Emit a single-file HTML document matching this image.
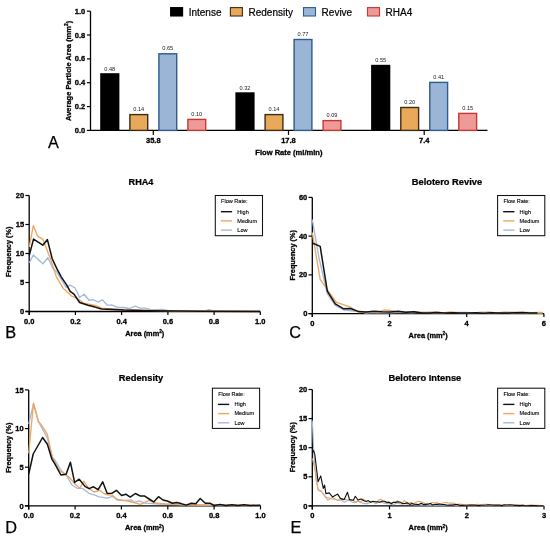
<!DOCTYPE html>
<html><head><meta charset="utf-8"><style>
html,body{margin:0;padding:0;background:#fff;}
svg{display:block;will-change:transform;}
text{font-family:"Liberation Sans", sans-serif;}
</style></head><body>
<svg width="550" height="536" viewBox="0 0 550 536">
<rect width="550" height="536" fill="#fff"/>
<line x1="90.5" y1="11.2" x2="90.5" y2="130.4" stroke="#000" stroke-width="1.3"/>
<line x1="89.9" y1="130.4" x2="487.5" y2="130.4" stroke="#000" stroke-width="1.3"/>
<line x1="86.9" y1="130.4" x2="90.5" y2="130.4" stroke="#000" stroke-width="1.2"/>
<text x="85.3" y="133.0" font-size="7.5" font-weight="bold" text-anchor="end" fill="#000"  stroke="#000" stroke-width="0.3">0.0</text>
<line x1="86.9" y1="106.6" x2="90.5" y2="106.6" stroke="#000" stroke-width="1.2"/>
<text x="85.3" y="109.16" font-size="7.5" font-weight="bold" text-anchor="end" fill="#000"  stroke="#000" stroke-width="0.3">0.2</text>
<line x1="86.9" y1="82.7" x2="90.5" y2="82.7" stroke="#000" stroke-width="1.2"/>
<text x="85.3" y="85.32" font-size="7.5" font-weight="bold" text-anchor="end" fill="#000"  stroke="#000" stroke-width="0.3">0.4</text>
<line x1="86.9" y1="58.9" x2="90.5" y2="58.9" stroke="#000" stroke-width="1.2"/>
<text x="85.3" y="61.48" font-size="7.5" font-weight="bold" text-anchor="end" fill="#000"  stroke="#000" stroke-width="0.3">0.6</text>
<line x1="86.9" y1="35.0" x2="90.5" y2="35.0" stroke="#000" stroke-width="1.2"/>
<text x="85.3" y="37.63999999999999" font-size="7.5" font-weight="bold" text-anchor="end" fill="#000"  stroke="#000" stroke-width="0.3">0.8</text>
<line x1="86.9" y1="11.2" x2="90.5" y2="11.2" stroke="#000" stroke-width="1.2"/>
<text x="85.3" y="13.800000000000002" font-size="7.5" font-weight="bold" text-anchor="end" fill="#000"  stroke="#000" stroke-width="0.3">1.0</text>
<text x="0" y="0" font-size="7.5" font-weight="bold" text-anchor="middle" fill="#000" transform="translate(70.8,70.9) rotate(-90)" stroke="#000" stroke-width="0.3">Average Particle Area (mm<tspan font-size="4.8" dy="-2.7">2</tspan><tspan dy="2.7">)</tspan></text>
<line x1="153.3" y1="130.4" x2="153.3" y2="134.9" stroke="#000" stroke-width="1.2"/>
<rect x="100.2" y="73.2" width="19.2" height="57.2" fill="#000"/>
<text x="109.80000000000001" y="70.78399999999999" font-size="5.6" font-weight="normal" text-anchor="middle" fill="#222" >0.48</text>
<rect x="129.9" y="114.6" width="17.8" height="15.8" fill="#E9A95B" stroke="#3F2C12" stroke-width="1.4"/>
<text x="138.8" y="111.012" font-size="5.6" font-weight="normal" text-anchor="middle" fill="#222" >0.14</text>
<rect x="158.9" y="53.8" width="17.8" height="76.6" fill="#9BB5D6" stroke="#2F5B8E" stroke-width="1.4"/>
<text x="167.8" y="50.22" font-size="5.6" font-weight="normal" text-anchor="middle" fill="#222" >0.65</text>
<rect x="187.9" y="119.4" width="17.8" height="11.0" fill="#EE9A98" stroke="#C93733" stroke-width="1.4"/>
<text x="196.8" y="115.78" font-size="5.6" font-weight="normal" text-anchor="middle" fill="#222" >0.10</text>
<line x1="288.5" y1="130.4" x2="288.5" y2="134.9" stroke="#000" stroke-width="1.2"/>
<rect x="235.4" y="92.3" width="19.2" height="38.1" fill="#000"/>
<text x="245.0" y="89.856" font-size="5.6" font-weight="normal" text-anchor="middle" fill="#222" >0.32</text>
<rect x="265.1" y="114.6" width="17.8" height="15.8" fill="#E9A95B" stroke="#3F2C12" stroke-width="1.4"/>
<text x="274.0" y="111.012" font-size="5.6" font-weight="normal" text-anchor="middle" fill="#222" >0.14</text>
<rect x="294.1" y="39.5" width="17.8" height="90.9" fill="#9BB5D6" stroke="#2F5B8E" stroke-width="1.4"/>
<text x="303.0" y="35.916" font-size="5.6" font-weight="normal" text-anchor="middle" fill="#222" >0.77</text>
<rect x="323.1" y="120.6" width="17.8" height="9.8" fill="#EE9A98" stroke="#C93733" stroke-width="1.4"/>
<text x="332.0" y="116.97200000000001" font-size="5.6" font-weight="normal" text-anchor="middle" fill="#222" >0.09</text>
<line x1="424.2" y1="130.4" x2="424.2" y2="134.9" stroke="#000" stroke-width="1.2"/>
<rect x="371.1" y="64.8" width="19.2" height="65.6" fill="#000"/>
<text x="380.7" y="62.440000000000005" font-size="5.6" font-weight="normal" text-anchor="middle" fill="#222" >0.55</text>
<rect x="400.8" y="107.5" width="17.8" height="22.9" fill="#E9A95B" stroke="#3F2C12" stroke-width="1.4"/>
<text x="409.7" y="103.86" font-size="5.6" font-weight="normal" text-anchor="middle" fill="#222" >0.20</text>
<rect x="429.8" y="82.4" width="17.8" height="48.0" fill="#9BB5D6" stroke="#2F5B8E" stroke-width="1.4"/>
<text x="438.7" y="78.828" font-size="5.6" font-weight="normal" text-anchor="middle" fill="#222" >0.41</text>
<rect x="458.8" y="113.4" width="17.8" height="17.0" fill="#EE9A98" stroke="#C93733" stroke-width="1.4"/>
<text x="467.7" y="109.82000000000001" font-size="5.6" font-weight="normal" text-anchor="middle" fill="#222" >0.15</text>
<text x="153.3" y="142.9" font-size="7.5" font-weight="bold" text-anchor="middle" fill="#000"  stroke="#000" stroke-width="0.3">35.8</text>
<text x="288.5" y="142.9" font-size="7.5" font-weight="bold" text-anchor="middle" fill="#000"  stroke="#000" stroke-width="0.3">17.8</text>
<text x="424.2" y="142.9" font-size="7.5" font-weight="bold" text-anchor="middle" fill="#000"  stroke="#000" stroke-width="0.3">7.4</text>
<text x="288.9" y="155.3" font-size="7.55" font-weight="bold" text-anchor="middle" fill="#000"  stroke="#000" stroke-width="0.3">Flow Rate (ml/min)</text>
<text x="48.1" y="148.0" font-size="16.3" font-weight="normal" text-anchor="start" fill="#000"  stroke="#000" stroke-width="0.25">A</text>
<rect x="170.6" y="7.6" width="12" height="8.4" fill="#000" stroke="#000" stroke-width="1.1"/>
<text x="188.7" y="15.6" font-size="10.0" font-weight="normal" text-anchor="start" fill="#000"  stroke="#000" stroke-width="0.2">Intense</text>
<rect x="230.4" y="7.6" width="12" height="8.4" fill="#E9A95B" stroke="#3F2C12" stroke-width="1.1"/>
<text x="248.5" y="15.6" font-size="10.0" font-weight="normal" text-anchor="start" fill="#000"  stroke="#000" stroke-width="0.2">Redensity</text>
<rect x="303.5" y="7.6" width="12" height="8.4" fill="#9BB5D6" stroke="#2F5B8E" stroke-width="1.1"/>
<text x="321.6" y="15.6" font-size="10.0" font-weight="normal" text-anchor="start" fill="#000"  stroke="#000" stroke-width="0.2">Revive</text>
<rect x="367.5" y="7.6" width="12" height="8.4" fill="#EE9A98" stroke="#C93733" stroke-width="1.1"/>
<text x="385.6" y="15.6" font-size="10.0" font-weight="normal" text-anchor="start" fill="#000"  stroke="#000" stroke-width="0.2">RHA4</text>
<!-- B -->
<line x1="29.2" y1="195.5" x2="29.2" y2="315.0" stroke="#000" stroke-width="1.3"/>
<line x1="25.4" y1="311.5" x2="260.3" y2="311.5" stroke="#000" stroke-width="1.3"/>
<line x1="25.4" y1="311.5" x2="29.2" y2="311.5" stroke="#000" stroke-width="1.2"/>
<text x="24.2" y="314.1" font-size="7.5" font-weight="bold" text-anchor="end" fill="#000"  stroke="#000" stroke-width="0.3">0</text>
<line x1="25.4" y1="282.5" x2="29.2" y2="282.5" stroke="#000" stroke-width="1.2"/>
<text x="24.2" y="285.1" font-size="7.5" font-weight="bold" text-anchor="end" fill="#000"  stroke="#000" stroke-width="0.3">5</text>
<line x1="25.4" y1="253.5" x2="29.2" y2="253.5" stroke="#000" stroke-width="1.2"/>
<text x="24.2" y="256.1" font-size="7.5" font-weight="bold" text-anchor="end" fill="#000"  stroke="#000" stroke-width="0.3">10</text>
<line x1="25.4" y1="224.5" x2="29.2" y2="224.5" stroke="#000" stroke-width="1.2"/>
<text x="24.2" y="227.1" font-size="7.5" font-weight="bold" text-anchor="end" fill="#000"  stroke="#000" stroke-width="0.3">15</text>
<line x1="25.4" y1="195.5" x2="29.2" y2="195.5" stroke="#000" stroke-width="1.2"/>
<text x="24.2" y="198.1" font-size="7.5" font-weight="bold" text-anchor="end" fill="#000"  stroke="#000" stroke-width="0.3">20</text>
<line x1="29.2" y1="311.5" x2="29.2" y2="315.0" stroke="#000" stroke-width="1.2"/>
<text x="29.2" y="323.7" font-size="7.5" font-weight="bold" text-anchor="middle" fill="#000"  stroke="#000" stroke-width="0.3">0.0</text>
<line x1="75.4" y1="311.5" x2="75.4" y2="315.0" stroke="#000" stroke-width="1.2"/>
<text x="75.42" y="323.7" font-size="7.5" font-weight="bold" text-anchor="middle" fill="#000"  stroke="#000" stroke-width="0.3">0.2</text>
<line x1="121.6" y1="311.5" x2="121.6" y2="315.0" stroke="#000" stroke-width="1.2"/>
<text x="121.64" y="323.7" font-size="7.5" font-weight="bold" text-anchor="middle" fill="#000"  stroke="#000" stroke-width="0.3">0.4</text>
<line x1="167.9" y1="311.5" x2="167.9" y2="315.0" stroke="#000" stroke-width="1.2"/>
<text x="167.85999999999999" y="323.7" font-size="7.5" font-weight="bold" text-anchor="middle" fill="#000"  stroke="#000" stroke-width="0.3">0.6</text>
<line x1="214.1" y1="311.5" x2="214.1" y2="315.0" stroke="#000" stroke-width="1.2"/>
<text x="214.07999999999998" y="323.7" font-size="7.5" font-weight="bold" text-anchor="middle" fill="#000"  stroke="#000" stroke-width="0.3">0.8</text>
<line x1="260.3" y1="311.5" x2="260.3" y2="315.0" stroke="#000" stroke-width="1.2"/>
<text x="260.3" y="323.7" font-size="7.5" font-weight="bold" text-anchor="middle" fill="#000"  stroke="#000" stroke-width="0.3">1.0</text>
<text x="0" y="0" font-size="7.5" font-weight="bold" text-anchor="middle" fill="#000" transform="translate(11.399999999999999,251.8) rotate(-90) scale(0.975,1)" stroke="#000" stroke-width="0.3">Frequency (%)</text>
<text x="0" y="0" transform="translate(144.75,336.00) scale(0.985,1)" font-size="7.5" font-weight="bold" text-anchor="middle" fill="#000"  stroke="#000" stroke-width="0.3">Area (mm<tspan font-size="4.8" dy="-2.7">2</tspan><tspan dy="2.7">)</tspan></text>
<text x="0" y="0" transform="translate(141.00,184.90) scale(0.97,1)" font-size="9.4" font-weight="bold" text-anchor="middle" fill="#000"  stroke="#000" stroke-width="0.25">RHA4</text>
<text x="5.2" y="338.0" font-size="16.3" font-weight="normal" text-anchor="start" fill="#000"  stroke="#000" stroke-width="0.25">B</text>
<rect x="215.3" y="195.5" width="47.2" height="40.2" fill="#fff" stroke="#111" stroke-width="1.05"/>
<text x="0" y="0" transform="translate(221.10,202.80) scale(0.94,1)" font-size="5.9" font-weight="normal" text-anchor="start" fill="#000"  stroke="#000" stroke-width="0.12">Flow Rate:</text>
<line x1="220.9" y1="211.7" x2="232.10000000000002" y2="211.7" stroke="#111" stroke-width="1.4"/>
<text x="0" y="0" transform="translate(237.30,213.50) scale(0.96,1)" font-size="5.8" font-weight="normal" text-anchor="start" fill="#000"  stroke="#000" stroke-width="0.12">High</text>
<line x1="220.9" y1="220.9" x2="232.10000000000002" y2="220.9" stroke="#ECA762" stroke-width="1.4"/>
<text x="0" y="0" transform="translate(237.30,222.70) scale(0.96,1)" font-size="5.8" font-weight="normal" text-anchor="start" fill="#000"  stroke="#000" stroke-width="0.12">Medium</text>
<line x1="220.9" y1="230.1" x2="232.10000000000002" y2="230.1" stroke="#A2BADB" stroke-width="1.4"/>
<text x="0" y="0" transform="translate(237.30,231.90) scale(0.96,1)" font-size="5.8" font-weight="normal" text-anchor="start" fill="#000"  stroke="#000" stroke-width="0.12">Low</text>
<!-- C -->
<line x1="312.3" y1="197.4" x2="312.3" y2="317.1" stroke="#000" stroke-width="1.3"/>
<line x1="308.5" y1="313.6" x2="544.0" y2="313.6" stroke="#000" stroke-width="1.3"/>
<line x1="308.5" y1="313.6" x2="312.3" y2="313.6" stroke="#000" stroke-width="1.2"/>
<text x="307.3" y="316.20000000000005" font-size="7.5" font-weight="bold" text-anchor="end" fill="#000"  stroke="#000" stroke-width="0.3">0</text>
<line x1="308.5" y1="274.9" x2="312.3" y2="274.9" stroke="#000" stroke-width="1.2"/>
<text x="307.3" y="277.46000000000004" font-size="7.5" font-weight="bold" text-anchor="end" fill="#000"  stroke="#000" stroke-width="0.3">20</text>
<line x1="308.5" y1="236.1" x2="312.3" y2="236.1" stroke="#000" stroke-width="1.2"/>
<text x="307.3" y="238.72" font-size="7.5" font-weight="bold" text-anchor="end" fill="#000"  stroke="#000" stroke-width="0.3">40</text>
<line x1="308.5" y1="197.4" x2="312.3" y2="197.4" stroke="#000" stroke-width="1.2"/>
<text x="307.3" y="199.98000000000002" font-size="7.5" font-weight="bold" text-anchor="end" fill="#000"  stroke="#000" stroke-width="0.3">60</text>
<line x1="312.3" y1="313.6" x2="312.3" y2="317.1" stroke="#000" stroke-width="1.2"/>
<text x="312.3" y="325.8" font-size="7.5" font-weight="bold" text-anchor="middle" fill="#000"  stroke="#000" stroke-width="0.3">0</text>
<line x1="389.5" y1="313.6" x2="389.5" y2="317.1" stroke="#000" stroke-width="1.2"/>
<text x="389.5" y="325.8" font-size="7.5" font-weight="bold" text-anchor="middle" fill="#000"  stroke="#000" stroke-width="0.3">2</text>
<line x1="466.7" y1="313.6" x2="466.7" y2="317.1" stroke="#000" stroke-width="1.2"/>
<text x="466.70000000000005" y="325.8" font-size="7.5" font-weight="bold" text-anchor="middle" fill="#000"  stroke="#000" stroke-width="0.3">4</text>
<line x1="543.9" y1="313.6" x2="543.9" y2="317.1" stroke="#000" stroke-width="1.2"/>
<text x="543.9000000000001" y="325.8" font-size="7.5" font-weight="bold" text-anchor="middle" fill="#000"  stroke="#000" stroke-width="0.3">6</text>
<text x="0" y="0" font-size="7.5" font-weight="bold" text-anchor="middle" fill="#000" transform="translate(294.5,255.3) rotate(-90) scale(0.975,1)" stroke="#000" stroke-width="0.3">Frequency (%)</text>
<text x="0" y="0" transform="translate(428.15,338.10) scale(0.985,1)" font-size="7.5" font-weight="bold" text-anchor="middle" fill="#000"  stroke="#000" stroke-width="0.3">Area (mm<tspan font-size="4.8" dy="-2.7">2</tspan><tspan dy="2.7">)</tspan></text>
<text x="0" y="0" transform="translate(446.95,185.20) scale(0.99,1)" font-size="9.4" font-weight="bold" text-anchor="middle" fill="#000"  stroke="#000" stroke-width="0.25">Belotero Revive</text>
<text x="289.3" y="338.2" font-size="16.3" font-weight="normal" text-anchor="start" fill="#000"  stroke="#000" stroke-width="0.25">C</text>
<rect x="497.6" y="195.5" width="47.2" height="40.2" fill="#fff" stroke="#111" stroke-width="1.05"/>
<text x="0" y="0" transform="translate(503.40,202.80) scale(0.94,1)" font-size="5.9" font-weight="normal" text-anchor="start" fill="#000"  stroke="#000" stroke-width="0.12">Flow Rate:</text>
<line x1="503.20000000000005" y1="211.7" x2="514.4" y2="211.7" stroke="#111" stroke-width="1.4"/>
<text x="0" y="0" transform="translate(519.60,213.50) scale(0.96,1)" font-size="5.8" font-weight="normal" text-anchor="start" fill="#000"  stroke="#000" stroke-width="0.12">High</text>
<line x1="503.20000000000005" y1="220.9" x2="514.4" y2="220.9" stroke="#ECA762" stroke-width="1.4"/>
<text x="0" y="0" transform="translate(519.60,222.70) scale(0.96,1)" font-size="5.8" font-weight="normal" text-anchor="start" fill="#000"  stroke="#000" stroke-width="0.12">Medium</text>
<line x1="503.20000000000005" y1="230.1" x2="514.4" y2="230.1" stroke="#A2BADB" stroke-width="1.4"/>
<text x="0" y="0" transform="translate(519.60,231.90) scale(0.96,1)" font-size="5.8" font-weight="normal" text-anchor="start" fill="#000"  stroke="#000" stroke-width="0.12">Low</text>
<!-- D -->
<line x1="28.7" y1="389.9" x2="28.7" y2="509.4" stroke="#000" stroke-width="1.3"/>
<line x1="24.9" y1="505.9" x2="260.5" y2="505.9" stroke="#000" stroke-width="1.3"/>
<line x1="24.9" y1="505.9" x2="28.7" y2="505.9" stroke="#000" stroke-width="1.2"/>
<text x="23.7" y="508.5" font-size="7.5" font-weight="bold" text-anchor="end" fill="#000"  stroke="#000" stroke-width="0.3">0</text>
<line x1="24.9" y1="467.2" x2="28.7" y2="467.2" stroke="#000" stroke-width="1.2"/>
<text x="23.7" y="469.835" font-size="7.5" font-weight="bold" text-anchor="end" fill="#000"  stroke="#000" stroke-width="0.3">5</text>
<line x1="24.9" y1="428.6" x2="28.7" y2="428.6" stroke="#000" stroke-width="1.2"/>
<text x="23.7" y="431.17" font-size="7.5" font-weight="bold" text-anchor="end" fill="#000"  stroke="#000" stroke-width="0.3">10</text>
<line x1="24.9" y1="389.9" x2="28.7" y2="389.9" stroke="#000" stroke-width="1.2"/>
<text x="23.7" y="392.505" font-size="7.5" font-weight="bold" text-anchor="end" fill="#000"  stroke="#000" stroke-width="0.3">15</text>
<line x1="28.7" y1="505.9" x2="28.7" y2="509.4" stroke="#000" stroke-width="1.2"/>
<text x="28.7" y="518.1" font-size="7.5" font-weight="bold" text-anchor="middle" fill="#000"  stroke="#000" stroke-width="0.3">0.0</text>
<line x1="75.1" y1="505.9" x2="75.1" y2="509.4" stroke="#000" stroke-width="1.2"/>
<text x="75.06" y="518.1" font-size="7.5" font-weight="bold" text-anchor="middle" fill="#000"  stroke="#000" stroke-width="0.3">0.2</text>
<line x1="121.4" y1="505.9" x2="121.4" y2="509.4" stroke="#000" stroke-width="1.2"/>
<text x="121.42" y="518.1" font-size="7.5" font-weight="bold" text-anchor="middle" fill="#000"  stroke="#000" stroke-width="0.3">0.4</text>
<line x1="167.8" y1="505.9" x2="167.8" y2="509.4" stroke="#000" stroke-width="1.2"/>
<text x="167.77999999999997" y="518.1" font-size="7.5" font-weight="bold" text-anchor="middle" fill="#000"  stroke="#000" stroke-width="0.3">0.6</text>
<line x1="214.1" y1="505.9" x2="214.1" y2="509.4" stroke="#000" stroke-width="1.2"/>
<text x="214.14" y="518.1" font-size="7.5" font-weight="bold" text-anchor="middle" fill="#000"  stroke="#000" stroke-width="0.3">0.8</text>
<line x1="260.5" y1="505.9" x2="260.5" y2="509.4" stroke="#000" stroke-width="1.2"/>
<text x="260.5" y="518.1" font-size="7.5" font-weight="bold" text-anchor="middle" fill="#000"  stroke="#000" stroke-width="0.3">1.0</text>
<text x="0" y="0" font-size="7.5" font-weight="bold" text-anchor="middle" fill="#000" transform="translate(10.899999999999999,447.7) rotate(-90) scale(0.975,1)" stroke="#000" stroke-width="0.3">Frequency (%)</text>
<text x="0" y="0" transform="translate(144.60,530.40) scale(0.985,1)" font-size="7.5" font-weight="bold" text-anchor="middle" fill="#000"  stroke="#000" stroke-width="0.3">Area (mm<tspan font-size="4.8" dy="-2.7">2</tspan><tspan dy="2.7">)</tspan></text>
<text x="0" y="0" transform="translate(141.05,380.90) scale(0.99,1)" font-size="9.4" font-weight="bold" text-anchor="middle" fill="#000"  stroke="#000" stroke-width="0.25">Redensity</text>
<text x="5.2" y="532.6" font-size="16.3" font-weight="normal" text-anchor="start" fill="#000"  stroke="#000" stroke-width="0.25">D</text>
<rect x="212.4" y="388.2" width="47.2" height="40.2" fill="#fff" stroke="#111" stroke-width="1.05"/>
<text x="0" y="0" transform="translate(218.20,395.50) scale(0.94,1)" font-size="5.9" font-weight="normal" text-anchor="start" fill="#000"  stroke="#000" stroke-width="0.12">Flow Rate:</text>
<line x1="218.0" y1="404.4" x2="229.20000000000002" y2="404.4" stroke="#111" stroke-width="1.4"/>
<text x="0" y="0" transform="translate(234.40,406.20) scale(0.96,1)" font-size="5.8" font-weight="normal" text-anchor="start" fill="#000"  stroke="#000" stroke-width="0.12">High</text>
<line x1="218.0" y1="413.6" x2="229.20000000000002" y2="413.6" stroke="#ECA762" stroke-width="1.4"/>
<text x="0" y="0" transform="translate(234.40,415.40) scale(0.96,1)" font-size="5.8" font-weight="normal" text-anchor="start" fill="#000"  stroke="#000" stroke-width="0.12">Medium</text>
<line x1="218.0" y1="422.8" x2="229.20000000000002" y2="422.8" stroke="#A2BADB" stroke-width="1.4"/>
<text x="0" y="0" transform="translate(234.40,424.60) scale(0.96,1)" font-size="5.8" font-weight="normal" text-anchor="start" fill="#000"  stroke="#000" stroke-width="0.12">Low</text>
<!-- E -->
<line x1="312.3" y1="389.5" x2="312.3" y2="509.4" stroke="#000" stroke-width="1.3"/>
<line x1="308.5" y1="505.9" x2="544.0" y2="505.9" stroke="#000" stroke-width="1.3"/>
<line x1="308.5" y1="505.9" x2="312.3" y2="505.9" stroke="#000" stroke-width="1.2"/>
<text x="307.3" y="508.5" font-size="7.5" font-weight="bold" text-anchor="end" fill="#000"  stroke="#000" stroke-width="0.3">0</text>
<line x1="308.5" y1="476.8" x2="312.3" y2="476.8" stroke="#000" stroke-width="1.2"/>
<text x="307.3" y="479.4" font-size="7.5" font-weight="bold" text-anchor="end" fill="#000"  stroke="#000" stroke-width="0.3">5</text>
<line x1="308.5" y1="447.7" x2="312.3" y2="447.7" stroke="#000" stroke-width="1.2"/>
<text x="307.3" y="450.3" font-size="7.5" font-weight="bold" text-anchor="end" fill="#000"  stroke="#000" stroke-width="0.3">10</text>
<line x1="308.5" y1="418.6" x2="312.3" y2="418.6" stroke="#000" stroke-width="1.2"/>
<text x="307.3" y="421.2" font-size="7.5" font-weight="bold" text-anchor="end" fill="#000"  stroke="#000" stroke-width="0.3">15</text>
<line x1="308.5" y1="389.5" x2="312.3" y2="389.5" stroke="#000" stroke-width="1.2"/>
<text x="307.3" y="392.1" font-size="7.5" font-weight="bold" text-anchor="end" fill="#000"  stroke="#000" stroke-width="0.3">20</text>
<line x1="312.3" y1="505.9" x2="312.3" y2="509.4" stroke="#000" stroke-width="1.2"/>
<text x="312.3" y="518.1" font-size="7.5" font-weight="bold" text-anchor="middle" fill="#000"  stroke="#000" stroke-width="0.3">0</text>
<line x1="389.5" y1="505.9" x2="389.5" y2="509.4" stroke="#000" stroke-width="1.2"/>
<text x="389.53000000000003" y="518.1" font-size="7.5" font-weight="bold" text-anchor="middle" fill="#000"  stroke="#000" stroke-width="0.3">1</text>
<line x1="466.8" y1="505.9" x2="466.8" y2="509.4" stroke="#000" stroke-width="1.2"/>
<text x="466.76" y="518.1" font-size="7.5" font-weight="bold" text-anchor="middle" fill="#000"  stroke="#000" stroke-width="0.3">2</text>
<line x1="544.0" y1="505.9" x2="544.0" y2="509.4" stroke="#000" stroke-width="1.2"/>
<text x="543.99" y="518.1" font-size="7.5" font-weight="bold" text-anchor="middle" fill="#000"  stroke="#000" stroke-width="0.3">3</text>
<text x="0" y="0" font-size="7.5" font-weight="bold" text-anchor="middle" fill="#000" transform="translate(294.5,447.1) rotate(-90) scale(0.975,1)" stroke="#000" stroke-width="0.3">Frequency (%)</text>
<text x="0" y="0" transform="translate(428.15,530.40) scale(0.985,1)" font-size="7.5" font-weight="bold" text-anchor="middle" fill="#000"  stroke="#000" stroke-width="0.3">Area (mm<tspan font-size="4.8" dy="-2.7">2</tspan><tspan dy="2.7">)</tspan></text>
<text x="0" y="0" transform="translate(424.85,381.30) scale(0.99,1)" font-size="9.4" font-weight="bold" text-anchor="middle" fill="#000"  stroke="#000" stroke-width="0.25">Belotero Intense</text>
<text x="290.5" y="532.6" font-size="16.3" font-weight="normal" text-anchor="start" fill="#000"  stroke="#000" stroke-width="0.25">E</text>
<rect x="497.6" y="388.2" width="47.2" height="40.2" fill="#fff" stroke="#111" stroke-width="1.05"/>
<text x="0" y="0" transform="translate(503.40,395.50) scale(0.94,1)" font-size="5.9" font-weight="normal" text-anchor="start" fill="#000"  stroke="#000" stroke-width="0.12">Flow Rate:</text>
<line x1="503.20000000000005" y1="404.4" x2="514.4" y2="404.4" stroke="#111" stroke-width="1.4"/>
<text x="0" y="0" transform="translate(519.60,406.20) scale(0.96,1)" font-size="5.8" font-weight="normal" text-anchor="start" fill="#000"  stroke="#000" stroke-width="0.12">High</text>
<line x1="503.20000000000005" y1="413.6" x2="514.4" y2="413.6" stroke="#ECA762" stroke-width="1.4"/>
<text x="0" y="0" transform="translate(519.60,415.40) scale(0.96,1)" font-size="5.8" font-weight="normal" text-anchor="start" fill="#000"  stroke="#000" stroke-width="0.12">Medium</text>
<line x1="503.20000000000005" y1="422.8" x2="514.4" y2="422.8" stroke="#A2BADB" stroke-width="1.4"/>
<text x="0" y="0" transform="translate(519.60,424.60) scale(0.96,1)" font-size="5.8" font-weight="normal" text-anchor="start" fill="#000"  stroke="#000" stroke-width="0.12">Low</text>
<polyline points="29.3,262.9 33.3,255.0 42.8,263.8 47.9,257.8 53.0,268.5 56.7,271.8 66.2,287.4 70.1,285.2 75.2,288.0 79.6,297.5 84.1,294.2 89.1,300.3 93.0,299.7 98.2,302.0 102.3,299.8 107.4,305.3 111.7,304.9 117.5,307.4 123.4,307.5 129.9,308.5 135.0,306.0 140.1,308.1 145.2,308.1 151.7,310.0 162.0,309.3 167.7,310.4 175.0,311.0 205.0,311.0 209.5,309.5 213.0,311.0 260.0,311.2" fill="none" stroke="#A2BADB" stroke-width="1.35" stroke-linejoin="round"/>
<polyline points="29.3,247.0 33.3,225.6 37.7,236.3 42.8,239.1 51.1,260.6 56.2,276.3 63.4,288.6 71.3,295.8 77.4,298.6 83.6,303.1 95.0,305.5 99.2,307.0 101.5,308.1 124.0,309.6 150.0,310.4 180.0,311.0 260.0,311.3" fill="none" stroke="#ECA762" stroke-width="1.35" stroke-linejoin="round"/>
<polyline points="29.3,255.4 33.5,239.1 42.8,245.2 47.4,239.6 52.2,258.8 56.7,268.4 61.2,276.8 66.8,285.2 70.1,291.4 74.0,294.2 79.6,302.5 88.0,305.3 95.0,307.1 101.5,309.0 124.0,310.1 150.0,310.7 175.0,311.0 200.0,311.2 260.0,311.4" fill="none" stroke="#111" stroke-width="1.5" stroke-linejoin="round"/>
<polyline points="312.3,219.6 319.0,258.0 327.3,293.7 335.3,305.5 343.7,310.0 358.8,311.5 366.0,313.0 373.7,312.5 381.4,312.8 389.1,312.9 396.8,312.6 404.5,312.7 412.2,312.9 419.9,312.4 427.6,312.5 435.3,313.0 443.0,312.6 450.7,312.7 458.4,312.3 466.1,312.5 473.8,312.9 481.5,312.2 489.2,313.1 496.9,312.8 504.6,312.4 512.3,313.0 520.0,312.7 527.7,313.2 535.4,312.5 543.1,312.4" fill="none" stroke="#A2BADB" stroke-width="1.35" stroke-linejoin="round"/>
<polyline points="312.3,232.7 320.2,279.4 327.8,290.4 336.2,302.1 350.4,307.1 358.8,312.5 370.0,311.6 378.0,312.7 384.0,310.0 390.0,310.4 397.0,312.0 404.0,312.2 411.7,311.7 419.4,312.2 427.1,312.5 434.8,311.6 442.5,313.0 450.2,311.8 457.9,312.7 465.6,312.9 473.3,312.9 481.0,312.6 488.7,311.9 496.4,312.8 504.1,312.2 511.8,312.1 519.5,312.5 527.2,312.3 534.9,313.0 542.6,313.0" fill="none" stroke="#ECA762" stroke-width="1.35" stroke-linejoin="round"/>
<polyline points="312.3,243.0 320.2,246.4 327.3,291.2 335.3,303.8 343.7,308.8 350.4,308.5 358.8,311.6 366.0,311.9 374.0,311.3 382.0,311.8 390.0,312.0 398.0,311.2 406.0,312.2 414.0,311.8 422.0,312.9 429.7,313.1 437.4,312.6 445.1,313.1 452.8,312.7 460.5,312.9 468.2,313.1 475.9,312.7 483.6,313.2 491.3,312.8 499.0,313.1 506.7,313.1 514.4,312.8 522.1,312.5 529.8,313.1 537.5,313.0" fill="none" stroke="#111" stroke-width="1.5" stroke-linejoin="round"/>
<polyline points="28.7,424.1 33.5,404.0 38.4,421.5 47.4,438.3 52.6,457.7 55.0,460.2 60.9,470.0 66.8,475.9 72.0,485.0 77.2,488.3 82.4,488.3 89.0,493.3 94.2,494.9 99.4,496.8 107.2,498.1 112.5,496.4 117.7,499.4 125.0,500.3 130.9,499.9 134.5,502.3 138.9,500.9 145.0,503.2 160.0,504.0 200.0,505.0 260.0,505.5" fill="none" stroke="#A2BADB" stroke-width="1.35" stroke-linejoin="round"/>
<polyline points="28.7,453.2 33.5,403.2 38.4,421.1 42.9,427.1 47.4,434.6 51.9,456.2 58.9,470.0 65.4,474.6 70.0,477.9 74.6,483.8 79.8,488.3 83.7,481.1 89.0,488.6 94.2,492.0 99.4,490.3 104.0,493.5 107.2,494.8 112.5,495.2 117.0,500.1 125.0,500.7 130.0,501.5 140.4,504.4 149.1,500.4 154.9,503.0 165.0,503.8 180.0,504.5 200.0,505.0 260.0,505.5" fill="none" stroke="#ECA762" stroke-width="1.35" stroke-linejoin="round"/>
<polyline points="28.7,474.1 33.2,454.0 42.6,437.5 47.4,444.3 51.9,459.2 55.0,464.2 60.9,475.0 66.1,474.2 70.4,462.2 74.6,482.4 79.2,479.2 85.0,486.4 89.0,488.6 93.5,486.8 98.1,489.6 102.7,481.8 107.2,493.5 111.8,493.3 116.4,490.3 121.6,495.5 125.8,494.2 130.2,497.1 135.3,493.5 140.4,496.1 144.7,496.1 149.1,499.0 153.7,501.9 158.5,496.7 162.9,500.0 167.3,501.0 172.4,503.3 176.7,502.5 181.1,503.6 186.2,505.1 191.3,503.3 195.8,503.7 200.2,498.5 205.3,503.3 210.4,503.3 214.0,505.5 220.0,504.5 226.0,505.5 232.0,504.7 238.0,505.5 244.0,504.8 250.0,505.5 260.5,505.2" fill="none" stroke="#111" stroke-width="1.5" stroke-linejoin="round"/>
<polyline points="312.3,420.5 314.0,455.0 316.0,480.0 318.1,490.2 322.0,492.0 326.0,497.0 332.0,499.0 340.0,500.0 342.0,500.6 344.6,502.3 347.2,500.8 349.8,500.4 352.4,502.4 355.0,502.5 357.6,500.9 360.2,501.7 362.8,503.4 365.4,503.6 368.0,503.6 370.6,501.7 373.2,502.1 375.8,503.9 378.4,502.3 381.0,502.0 383.6,502.9 386.2,503.7 388.8,503.4 391.4,504.4 394.0,504.7 396.6,502.9 399.2,503.6 401.8,503.9 404.4,503.3 407.0,504.3 409.6,503.7 412.2,503.9 414.8,504.9 417.4,504.9 420.0,505.0 422.6,505.1 425.2,504.8 427.8,505.3 432.0,505.3 435.0,505.5 438.0,504.9 441.0,505.3 444.0,505.3 447.0,505.2 450.0,505.0 453.0,505.3 456.0,505.0 459.0,505.3 462.0,505.3 465.0,505.3 468.0,505.7 471.0,505.4 474.0,505.5 477.0,505.7 480.0,505.1 483.0,505.6 486.0,505.4 489.0,505.2 492.0,505.4 495.0,505.5 498.0,505.4 501.0,505.4 504.0,505.3 507.0,505.7 510.0,505.4 513.0,505.6 516.0,505.6 519.0,505.3 522.0,505.5 525.0,505.5 528.0,505.4 531.0,505.3 534.0,505.5 537.0,505.5 540.0,505.5 543.0,505.5" fill="none" stroke="#A2BADB" stroke-width="1.1" stroke-linejoin="round"/>
<polyline points="312.5,458.3 316.1,475.3 318.1,489.7 320.7,490.2 324.6,496.2 327.9,500.1 332.5,497.5 337.7,500.4 344.2,499.2 353.4,500.5 356.0,502.2 358.3,501.1 360.6,502.7 362.9,499.1 365.2,500.3 367.5,502.3 369.8,501.9 372.1,501.6 374.4,501.6 376.7,502.6 379.0,499.9 381.3,499.4 383.6,501.5 385.9,501.5 388.2,503.1 390.5,503.1 392.8,502.3 395.1,502.6 397.4,500.7 399.7,503.1 402.0,503.6 404.3,500.6 406.6,502.1 408.9,503.4 411.2,502.2 413.5,503.8 415.8,502.4 418.1,501.2 420.4,501.6 422.7,502.2 425.0,503.5 427.3,503.2 429.6,503.8 431.9,502.4 434.2,503.0 436.5,502.5 438.8,503.7 441.1,504.0 443.4,502.8 445.7,502.5 448.0,502.9 450.3,503.1 452.6,503.1 454.9,503.4 457.2,504.4 459.5,504.0 461.8,504.3 464.1,504.9 466.4,505.0 468.7,504.6 472.0,505.1 475.0,504.6 478.0,504.3 481.0,504.9 484.0,504.4 487.0,504.4 490.0,504.5 493.0,505.1 496.0,505.3 499.0,505.3 502.0,505.4 505.0,505.4 508.0,505.0 511.0,504.8 514.0,504.9 517.0,505.3 520.0,505.1 523.0,505.1 526.0,505.6 529.0,505.2 532.0,505.1 535.0,505.2 538.0,505.3 541.0,505.5 544.0,505.7" fill="none" stroke="#ECA762" stroke-width="1.1" stroke-linejoin="round"/>
<polyline points="312.5,452.4 313.5,450.5 314.8,454.4 318.1,481.8 320.7,475.9 323.3,488.4 324.6,485.1 325.9,493.6 329.2,492.9 332.5,496.9 337.7,494.1 340.3,498.4 344.2,499.6 347.5,492.3 349.5,499.6 353.4,500.3 355.3,496.2 358.0,500.0 361.0,499.0 364.5,501.0 366.0,501.4 368.3,500.6 370.6,502.3 372.9,501.3 375.2,501.7 377.5,501.8 379.8,502.3 382.1,501.3 384.4,501.2 386.7,502.5 389.0,502.1 391.3,503.7 393.6,502.2 395.9,502.4 398.2,501.7 400.5,502.2 402.8,503.6 405.1,503.4 407.4,502.9 409.7,504.4 412.0,503.5 414.3,504.2 416.6,504.4 418.9,504.6 421.2,503.3 423.5,504.6 425.8,504.4 428.1,504.3 430.4,503.5 432.7,505.0 435.0,504.4 437.3,504.4 439.6,504.0 442.0,504.5 444.6,504.5 447.2,505.2 449.8,505.0 452.4,505.1 455.0,504.5 457.6,504.5 460.2,505.4 462.8,505.4 465.4,505.3 468.0,505.3 470.6,505.1 473.2,505.0 475.8,505.3 478.4,505.6 481.0,505.2 483.6,505.2 486.2,505.0 488.8,504.7 491.4,505.0 494.0,505.1 496.6,505.1 499.2,505.0 501.8,505.6 504.4,504.8 507.0,505.0 509.6,504.9 512.2,505.0 514.8,505.4 517.4,505.4 520.0,505.6 522.6,505.2 525.2,505.7 527.8,505.7 530.4,505.6 533.0,505.6 535.6,505.5 538.2,505.7 540.8,505.8 543.4,505.7" fill="none" stroke="#111" stroke-width="1.1" stroke-linejoin="round"/>
</svg></body></html>
